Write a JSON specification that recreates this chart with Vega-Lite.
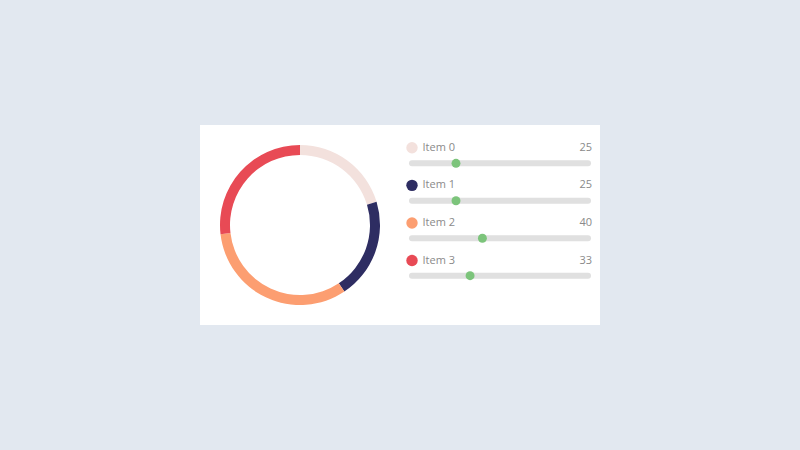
{
  "$schema": "https://vega.github.io/schema/vega-lite/v6.json",
  "background": "#e2e8f0",
  "padding": {"left": 200, "top": 125, "right": 200, "bottom": 125},
  "data": {
    "values": [
      {"item": "Item 0", "value": 25},
      {"item": "Item 1", "value": 25},
      {"item": "Item 2", "value": 40},
      {"item": "Item 3", "value": 33}
    ]
  },
  "spacing": 0,
  "hconcat": [
    {
      "width": 200,
      "height": 200,
      "view": {"fill": "white", "stroke": null},
      "layer": [
        {
          "mark": {"type": "rect", "color": "white"},
          "encoding": {}
        },
        {
          "mark": {"type": "arc", "innerRadius": 70, "outerRadius": 80},
          "encoding": {
            "theta": {"field": "value", "type": "quantitative", "stack": true},
            "order": {"field": "item", "type": "ordinal"},
            "color": {
              "field": "item",
              "type": "nominal",
              "scale": {
                "domain": ["Item 0", "Item 1", "Item 2", "Item 3"],
                "range": ["#f3e1dd", "#2e2d62", "#fc9e71", "#e84a55"]
              },
              "legend": null
            }
          }
        }
      ]
    },
    {
      "width": 200,
      "height": 200,
      "resolve": {"scale": {"y": "independent"}},
      "layer": [
        {
          "encoding": {
            "y": {
              "field": "item",
              "type": "nominal",
              "scale": {"type": "point", "range": [38.3, 150.7], "padding": 0},
              "axis": null
            }
          },
          "layer": [
            {
              "mark": {"type": "rule", "strokeWidth": 6, "strokeCap": "round", "color": "#e0e0e0"},
              "encoding": {
                "x": {"datum": 0, "type": "quantitative", "scale": {"domain": [0, 100], "range": [12, 188]}, "axis": null},
                "x2": {"datum": 100}
              }
            },
            {
              "mark": {"type": "point", "filled": true, "opacity": 1, "size": 80, "color": "#7cc47b"},
              "encoding": {
                "x": {"field": "value", "type": "quantitative", "scale": {"domain": [0, 100], "range": [12, 188]}, "axis": null}
              }
            }
          ]
        },
        {
          "encoding": {
            "y": {
              "field": "item",
              "type": "nominal",
              "scale": {"type": "point", "range": [22.8, 135.5], "padding": 0},
              "axis": null
            }
          },
          "layer": [
            {
              "mark": {"type": "point", "filled": true, "opacity": 1, "size": 130},
              "encoding": {
                "x": {"datum": 0, "type": "quantitative", "scale": {"domain": [0, 100], "range": [12, 188]}, "axis": null},
                "color": {
                  "field": "item",
                  "type": "nominal",
                  "scale": {
                    "domain": ["Item 0", "Item 1", "Item 2", "Item 3"],
                    "range": ["#f3e1dd", "#2e2d62", "#fc9e71", "#e84a55"]
                  },
                  "legend": null
                }
              }
            },
            {
              "mark": {"type": "text", "align": "left", "baseline": "middle", "dx": 10.5, "font": "Open Sans", "fontSize": 11, "color": "#8a8a8a"},
              "encoding": {
                "x": {"datum": 0, "type": "quantitative", "scale": {"domain": [0, 100], "range": [12, 188]}, "axis": null},
                "text": {"field": "item"}
              }
            },
            {
              "mark": {"type": "text", "align": "right", "baseline": "middle", "dx": 4, "font": "Open Sans", "fontSize": 11, "color": "#8a8a8a"},
              "encoding": {
                "x": {"datum": 100, "type": "quantitative", "scale": {"domain": [0, 100], "range": [12, 188]}, "axis": null},
                "text": {"field": "value", "type": "quantitative"}
              }
            }
          ]
        }
      ]
    }
  ],
  "config": {
    "view": {"fill": "white", "stroke": null}
  }
}
